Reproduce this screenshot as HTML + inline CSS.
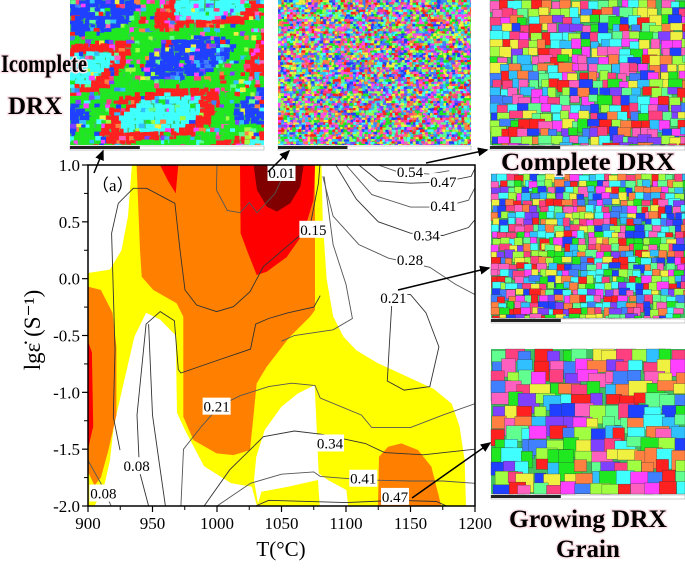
<!DOCTYPE html>
<html><head><meta charset="utf-8">
<style>
html,body{margin:0;padding:0;background:#fff;}
svg{display:block;font-family:"Liberation Serif",serif;}
.big{font-weight:bold;font-size:25px;fill:#000;paint-order:stroke;stroke:#fde4ea;stroke-width:3px;}
</style></head>
<body>
<svg id="fig" width="685" height="576" viewBox="0 0 685 576" xmlns="http://www.w3.org/2000/svg">
<g id="micro"></g>
<g id="plot"></g>
<g id="annot"></g>
</svg>
<script>
// ---- chart data (T in °C, lg strain rate) ----
const xTicks = [900, 950, 1000, 1050, 1100, 1150, 1200];
const yTicks = [1.0, 0.5, 0.0, -0.5, -1.0, -1.5, -2.0];
const yTickLabels = ["1.0", "0.5", "0.0", "-0.5", "-1.0", "-1.5", "-2.0"];
const yellowRegion = [[934,1],[1081,1],[1082,0.5],[1085,0.0],[1090,-0.33],[1098,-0.51],[1108,-0.63],[1124,-0.74],[1147,-0.86],[1168,-0.97],[1182,-1.1],[1188,-1.3],[1192,-1.6],[1193,-2],[900,-2],[900,0.05],[917,0.08],[926,0.25],[931,0.55]];
const whiteHoleA = [[945,-0.3],[956,-0.36],[968,-0.5],[969,-1.18],[975,-1.33],[990,-1.65],[1011,-1.8],[1027,-1.83],[1031,-2],[905,-2],[912,-1.85],[917,-1.6],[920,-1.3],[928,-0.9],[936,-0.51]];
const whiteHoleB = [[1075.7,-0.936],[1078.8,-1.713],[1086,-1.771],[1100.3,-1.859],[1101.6,-2],[1079.6,-2],[1078.3,-1.771],[1055,-1.83],[1034.4,-1.874],[1031.8,-1.977],[1028.7,-1.771],[1030.5,-1.566],[1037,-1.331],[1049.9,-1.126],[1062.8,-1.009]];
const orangeCenter = [[937.7,1],[1076,1],[1076,-0.276],[1072.1,-0.335],[1056.6,-0.51],[1038.5,-0.775],[1030.8,-0.921],[1028.2,-1.214],[1025.6,-1.508],[1012.7,-1.552],[999.7,-1.537],[981.7,-1.42],[973.9,-1.214],[973.9,-0.335],[968.7,-0.217],[950.6,-0.1],[941.6,0.017],[940.3,0.252]];
const orangeLeft = [[900,-0.07],[910,-0.1],[919,-0.3],[922,-0.6],[922,-1.2],[916,-1.5],[910,-1.75],[905,-1.82],[900,-1.7]];
const orangeRight = [[1124.8,-2],[1125.6,-1.566],[1132.6,-1.478],[1142.9,-1.449],[1155.8,-1.507],[1166.2,-1.654],[1173.9,-2]];
const redTopLeft = [[955.8,1],[970,1],[968,0.75],[962,0.86]];
const redCenter = [[1017.8,1],[1076,1],[1074.7,0.69],[1067,0.4],[1054,0.19],[1038.5,0.06],[1030.8,0.032],[1024.3,0.22],[1018.3,0.4]];
const redLeft = [[900,-0.55],[903,-0.65],[904,-1.3],[900,-1.5]];
const darkRed = [[1028.4,1],[1031,0.78],[1038.7,0.633],[1046.5,0.59],[1056.8,0.663],[1064.6,0.81],[1067.2,1]];
const contour015 = [[924.8,-1.508],[919.6,-1.214],[920.9,-0.628],[918.3,0.399],[923.5,0.663],[935.1,0.795],[945.5,0.795],[967.4,0.663],[971.3,0.252],[975.2,-0.1],[984.2,-0.232],[999.7,-0.29],[1012.7,-0.247],[1025.6,-0.115],[1035.9,0.105],[1054,0.281],[1072.1,0.457],[1078.6,0.839],[1079.8,1]];
const contour001 = [[1000,1],[999.5,0.78],[1008,0.6],[1018,0.58],[1025,0.67],[1031,0.58],[1045,0.75],[1055,1]];
const contour021a = [[947,-2],[940,-1.7],[938,-1.2],[945,-0.4],[956,-0.29],[967,-0.37],[970,-0.8],[972,-0.83],[1000,-0.72],[1026,-0.62],[1030,-0.4],[1040,-0.35],[1055,-0.3],[1075,-0.25],[1080,-0.15]];
const contour021b = [[972,-2],[974,-1.5],[988,-1.3],[1002,-1.12],[1018,-1.03],[1040,-0.95],[1058,-0.92],[1076,-0.94],[1080,-1.05],[1112,-1.2],[1120,-1.31],[1150,-1.31],[1175,-1.2],[1200,-1.1]];
const contour034 = [[990,-2],[1010,-1.68],[1036,-1.39],[1060,-1.34],[1082,-1.37],[1115,-1.45],[1130,-1.53],[1160,-1.55],[1200,-1.5]];
const contour041 = [[1000,-2],[1026,-1.8],[1050,-1.72],[1075,-1.7],[1080,-1.74],[1115,-1.77],[1150,-1.78],[1175,-1.78],[1200,-1.8]];
const contour047 = [[1030,-2],[1040,-1.95],[1100,-1.97],[1140,-1.95],[1170,-1.96],[1178,-2]];
const contour008 = [[900,-1.6],[910,-1.8],[918,-2]];
const contour008b = [[960,-2],[955,-1.6],[950,-1.2],[947,-0.4]];
const contourR054 = [[1125,1],[1140,0.94],[1165,0.92],[1180,0.95]];
const contourR047 = [[1110,1],[1125,0.86],[1150,0.84],[1175,0.85],[1197,0.9],[1200,0.97]];
const contourR041 = [[1100,1],[1120,0.74],[1150,0.63],[1175,0.63],[1195,0.69],[1200,0.8]];
const contourR034 = [[1092,1],[1108,0.7],[1125,0.5],[1150,0.4],[1175,0.38],[1195,0.45],[1200,0.52]];
const contourR028 = [[1082,0.9],[1090,0.55],[1110,0.3],[1133,0.18],[1165,0.1],[1185,-0.05],[1200,-0.14]];
const contourR021 = [[1136,-0.13],[1134,-0.5],[1132,-0.9],[1145,-0.98],[1165,-0.95],[1172,-0.6],[1162,-0.3],[1150,-0.14],[1136,-0.13]];
const contourR015 = [[1083,0.9],[1090,0.3],[1100,-0.05],[1105,-0.35],[1090,-0.45],[1060,-0.5],[1050,-0.55]];
const labelTexts = ["0.01","0.15","0.54","0.47","0.41","0.34","0.28","0.21","0.21","0.34","0.41","0.47","0.08","0.08"];
const labelT = [1050,1074.7,1149.6,1175.5,1175.5,1162.5,1149.6,1136.7,999.7,1087.6,1113.4,1138,937.7,911.9];
const labelV = [0.93,0.43,0.94,0.85,0.64,0.38,0.164,-0.17,-1.126,-1.45,-1.76,-1.92,-1.65,-1.89];

const NS = "http://www.w3.org/2000/svg";
const X0 = 88, X1 = 475, Y0 = 165, Y1 = 506;
function sx(t){ return X0 + (t - 900) / 300 * (X1 - X0); }
function sy(v){ return Y0 + (1 - v) / 3 * (Y1 - Y0); }
function mk(tag, attrs, parent){ const e = document.createElementNS(NS, tag); for (const k in attrs) e.setAttribute(k, attrs[k]); parent.appendChild(e); return e; }
function pts(arr){ return arr.map(p => sx(p[0]).toFixed(1) + "," + sy(p[1]).toFixed(1)).join(" "); }

const plot = document.getElementById("plot");
const clip = mk("clipPath", {id: "pc"}, plot);
mk("rect", {x: X0, y: Y0, width: X1 - X0, height: Y1 - Y0}, clip);
const area = mk("g", {"clip-path": "url(#pc)"}, plot);



const regions = [
  [yellowRegion, "#ffff00", "region-yellow"],
  [whiteHoleA, "#ffffff", "region-white-a"],
  [whiteHoleB, "#ffffff", "region-white-b"],
  [orangeCenter, "#ff8000", "region-orange-center"],
  [orangeLeft, "#ff8000", "region-orange-left"],
  [orangeRight, "#ff8000", "region-orange-right"],
  [redTopLeft, "#ff0000", "region-red-top-left"],
  [redCenter, "#ff0000", "region-red-center"],
  [redLeft, "#ff0000", "region-red-left"],
  [darkRed, "#800000", "region-dark-red"]
];
regions.forEach(r => {
  const p = mk("polygon", {points: pts(r[0]), fill: r[1]}, area);
  
  
});
const contours = [contour015, contour001, contour021a, contour021b, contour034, contour041, contour047, contour008, contour008b, contourR054, contourR047, contourR041, contourR034, contourR028, contourR021, contourR015];
contours.forEach((c, i) => {
  const l = mk("polyline", {points: pts(c), fill: "none", stroke: i % 2 ? "#555" : "#333", "stroke-width": 0.9}, area);
  
  
});
labelTexts.forEach((t, i) => {
  const g = mk("g", {}, area);
  
  
  const cx = sx(labelT[i]), cy = sy(labelV[i]);
  mk("rect", {x: cx - 14, y: cy - 9, width: 28, height: 17, fill: "#fff"}, g);
  const tx = mk("text", {x: cx, y: cy + 5, "text-anchor": "middle", "font-size": 15}, g);
  tx.textContent = t;
});
const frame = mk("rect", {x: X0, y: Y0, width: X1 - X0, height: Y1 - Y0, fill: "none", stroke: "#000", "stroke-width": 1.5}, plot);


xTicks.forEach((t, i) => {
  mk("line", {x1: sx(t), y1: Y1, x2: sx(t), y2: Y1 + 6, stroke: "#000", "stroke-width": 1.2}, plot);
  if (i < xTicks.length - 1) mk("line", {x1: sx(t + 25), y1: Y1, x2: sx(t + 25), y2: Y1 + 4, stroke: "#000"}, plot);
  const tx = mk("text", {x: sx(t), y: Y1 + 23, "text-anchor": "middle", "font-size": 17}, plot);
  
  
  tx.textContent = t;
});
yTicks.forEach((v, i) => {
  mk("line", {x1: X0 - 6, y1: sy(v), x2: X0, y2: sy(v), stroke: "#000", "stroke-width": 1.2}, plot);
  if (i < yTicks.length - 1) mk("line", {x1: X0 - 4, y1: sy(v - 0.25), x2: X0, y2: sy(v - 0.25), stroke: "#000"}, plot);
  const tx = mk("text", {x: X0 - 8, y: sy(v) + 6, "text-anchor": "end", "font-size": 17}, plot);
  
  
  tx.textContent = yTickLabels[i];
});
const xt = mk("text", {x: 281, y: 556, "text-anchor": "middle", "font-size": 21}, plot);


xt.textContent = "T(°C)";
const yt = mk("text", {x: 0, y: 0, "text-anchor": "middle", "font-size": 23, transform: "translate(40,330) rotate(-90)"}, plot);


yt.textContent = "lgε̇ (S⁻¹)";
const pa = mk("text", {x: 92, y: 191, "font-size": 17}, plot);


pa.textContent = "（a）";

// ---- micrographs (decorative, deterministic) ----
let seed = 12345;
function rnd(){ seed = (seed * 1103515245 + 12345) & 0x7fffffff; return seed / 0x7fffffff; }
const pal = ["#ff2020","#20e820","#2040ff","#ff40ff","#40ffff","#f0f040","#ff8040","#8040ff","#60ff90","#ff4080","#4080ff","#a0ff40","#30c0ff","#ff60c0"];
const micro = document.getElementById("micro");
function micrograph(name, x, y, w, h, cell, bias){
  const g = mk("g", {}, micro);
  
  
  mk("rect", {x: x, y: y, width: w, height: h - 5, fill: "#40c060"}, g);
  for (let yy = y; yy < y + h - 5; yy += cell * 0.8) {
    for (let xx = x; xx < x + w; xx += cell) {
      const cw = cell * (0.8 + rnd() * 0.9), ch = cell * (0.7 + rnd() * 0.8);
      let c = pal[Math.floor(rnd() * pal.length)];
      if (bias && rnd() < 0.75) c = bias(xx - x, yy - y);
      const rx = Math.max(x, xx + (rnd() - 0.5) * cell * 0.6);
      const ry = yy + (rnd() - 0.5) * cell * 0.3;
      mk("rect", {x: rx.toFixed(1), y: Math.max(y, ry).toFixed(1), width: Math.max(0, Math.min(cw, x + w - rx)).toFixed(1), height: Math.max(0, Math.min(ch, y + h - 5 - Math.max(y, ry))).toFixed(1), fill: c, stroke: cell > 6 ? "#333" : "none", "stroke-width": 0.3}, g);
    }
  }
  mk("rect", {x: x, y: y + h - 4, width: w, height: 4, fill: "#fff", stroke: "#999", "stroke-width": 0.5}, g);
  mk("rect", {x: x, y: y + h - 4, width: w * 0.36, height: 3, fill: "#222"}, g);
}
micrograph("micrograph-incomplete-drx", 70, 0, 194, 150, 5, (dx, dy) => {
  const s = Math.sin(dx / 30 + dy / 14) + Math.cos(dy / 22 - dx / 45);
  return s > 0.8 ? "#2040ff" : s > -0.2 ? "#20e820" : s > -1 ? "#ff2020" : "#40ffff";
});
micrograph("micrograph-fine-grains", 278, 0, 193, 150, 3, null);
micrograph("micrograph-complete-drx-1", 490, 0, 195, 150, 10, null);
micrograph("micrograph-complete-drx-2", 491, 174, 194, 149, 8, null);
micrograph("micrograph-growing-grain", 491, 349, 194, 150, 14, null);

// ---- annotations ----
const annot = document.getElementById("annot");
const defs = mk("defs", {}, annot);
const mkr = mk("marker", {id: "ah", markerWidth: 8, markerHeight: 8, refX: 6, refY: 3, orient: "auto"}, defs);
mk("path", {d: "M0,0 L7,3 L0,6 Z", fill: "#000"}, mkr);
const arrows = [[94,173,103,151],[268,172,289,151],[426,163,487,150],[398,290,489,268],[412,498,490,443]];
arrows.forEach(a => {
  const l = mk("line", {x1: a[0], y1: a[1], x2: a[2], y2: a[3], stroke: "#000", "stroke-width": 1.5, "marker-end": "url(#ah)"}, annot);
  
  
});
const titles = [["Icomplete", 1, 72, 86, 24], ["DRX", 8, 114, 0, 24], ["Complete DRX", 501, 170, 174, 25], ["Growing DRX", 509, 527, 158, 25], ["Grain", 556, 557, 0, 25]];
titles.forEach(t => {
  const tx = mk("text", {x: t[1], y: t[2], class: "big", "font-size": t[4]}, annot);
  if (t[3]) { tx.setAttribute("textLength", t[3]); tx.setAttribute("lengthAdjust", "spacingAndGlyphs"); }
  
  
  tx.textContent = t[0];
});
</script>
</body></html>
